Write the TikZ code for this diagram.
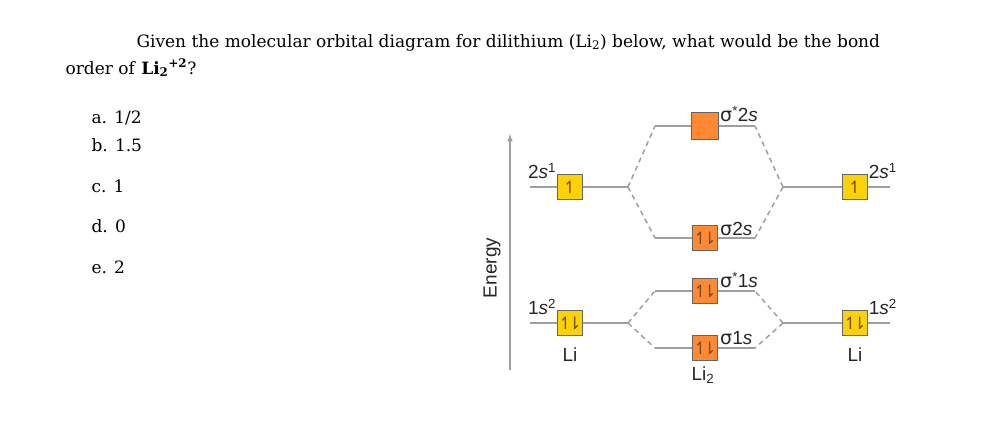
\documentclass[tikz,border=0pt]{standalone}
\usepackage{fontspec}
\setmainfont{DejaVu Serif}
\newfontfamily\dsans{Liberation Sans}
\newfontfamily\dvs{DejaVu Sans}
\newcommand{\upa}{{\dvs ↿}}
\newcommand{\pair}{{\dvs ↿\kern-5pt⇂}}
\begin{document}
\begin{tikzpicture}[x=1pt,y=-1pt,
  q/.style={anchor=base west,font=\fontsize{17}{19}\selectfont},
  lvl/.style={draw=gray!75,line width=1.6pt},
  dsh/.style={draw=gray!75,dash pattern=on 5pt off 4pt,line width=1.5pt},
  ao/.style={draw=black!60,fill=yellow!70!orange,minimum size=25pt,inner sep=0pt,text=brown!60!black,font=\fontsize{17}{17}\selectfont},
  mo/.style={draw=black!60,fill=orange!85!red!80,minimum size=25pt,inner sep=0pt,text=brown!60!black,font=\fontsize{17}{17}\selectfont},
  lb/.style={font=\dsans\fontsize{19}{19}\selectfont,inner sep=1pt,text=black!85}]
\useasboundingbox (0,0) rectangle (998,426);
\node[q] (t1) at (133,47) {Given the molecular orbital diagram for dilithium (Li\textsubscript{2}) below, what would be the bond};
\node[q] (t2) at (62,74) {order of \textbf{Li\textsubscript{2}\textsuperscript{+2}}?};
\node[q] (a) at (88,123) {a. 1/2};
\node[q] (b) at (88,151) {b. 1.5};
\node[q] (c) at (88,192) {c. 1};
\node[q] (d) at (88,232) {d. 0};
\node[q] (e) at (88,273) {e. 2};
% axis
\coordinate (ax0) at (510,370);
\coordinate (ax1) at (510,134);
\draw[gray!75,line width=1.5pt,-latex] (ax0) -- (ax1);
\node[lb,rotate=90] (en) at (492,268) {Energy};
% level endpoints
\coordinate (L2a) at (530,187); \coordinate (L2b) at (628,187);
\coordinate (L1a) at (530,323); \coordinate (L1b) at (628,323);
\coordinate (R2a) at (783,187); \coordinate (R2b) at (890,187);
\coordinate (R1a) at (783,323); \coordinate (R1b) at (890,323);
\coordinate (S2sa) at (655,126); \coordinate (S2sb) at (755,126);
\coordinate (B2sa) at (655,238); \coordinate (B2sb) at (755,238);
\coordinate (S1sa) at (655,291); \coordinate (S1sb) at (755,291);
\coordinate (B1sa) at (655,348); \coordinate (B1sb) at (755,348);
\foreach \p in {L2,L1,R2,R1,S2s,B2s,S1s,B1s}{\draw[lvl] (\p a) -- (\p b);}
\draw[dsh] (L2b) -- (S2sa); \draw[dsh] (L2b) -- (B2sa);
\draw[dsh] (R2a) -- (S2sb); \draw[dsh] (R2a) -- (B2sb);
\draw[dsh] (L1b) -- (S1sa); \draw[dsh] (L1b) -- (B1sa);
\draw[dsh] (R1a) -- (S1sb); \draw[dsh] (R1a) -- (B1sb);
% boxes
\node[ao] (l2) at (570,187) {\upa};
\node[ao] (l1) at (570,323) {\pair};
\node[ao] (r2) at (855,187) {\upa};
\node[ao] (r1) at (855,323) {\pair};
\node[mo,minimum size=27pt] (s2) at (705,126) {};
\node[mo] (b2) at (705,238) {\pair};
\node[mo] (s1) at (705,291) {\pair};
\node[mo] (b1) at (705,348) {\pair};
% labels
\node[lb,anchor=south east] (tl2) at ([yshift=-6pt]l2.north west) {2\textit{s}\textsuperscript{1}};
\node[lb,anchor=south east] (tl1) at ([yshift=-6pt]l1.north west) {1\textit{s}\textsuperscript{2}};
\node[lb,anchor=south west] (tr2) at ([yshift=-6pt]r2.north east) {2\textit{s}\textsuperscript{1}};
\node[lb,anchor=south west] (tr1) at ([yshift=-6pt]r1.north east) {1\textit{s}\textsuperscript{2}};
\node[lb,anchor=west] (ts2) at (719,114) {{\dvs σ}\textsuperscript{*}2\textit{s}};
\node[lb,anchor=west] (tb2) at (719,229) {{\dvs σ}2\textit{s}};
\node[lb,anchor=west] (ts1) at (719,280) {{\dvs σ}\textsuperscript{*}1\textit{s}};
\node[lb,anchor=west] (tb1) at (719,338) {{\dvs σ}1\textit{s}};
\node[lb] (li1) at (570,355) {Li};
\node[lb] (li2) at (855,355) {Li};
\node[lb] (li3) at (703,375) {Li\textsubscript{2}};
\end{tikzpicture}
\end{document}
